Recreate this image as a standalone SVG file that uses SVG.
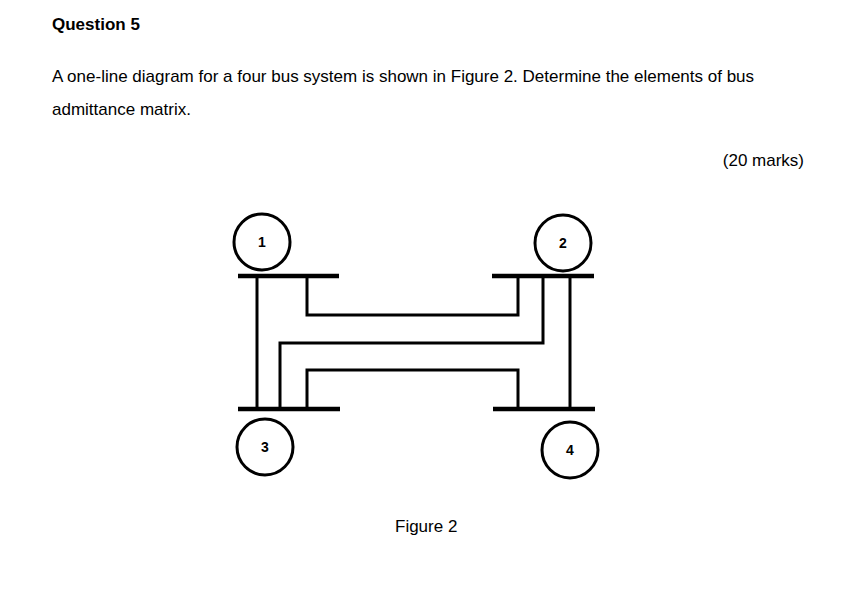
<svg xmlns="http://www.w3.org/2000/svg" width="865" height="591" viewBox="0 0 865 591">
<style>
.t{font-family:"Liberation Sans",Arial,sans-serif;font-size:17px;fill:#000}
.b{font-weight:bold}
.bus{stroke:#000;stroke-width:4.5}
.ln{fill:none;stroke:#000;stroke-width:3}
.c{fill:#fff;stroke:#000;stroke-width:3}
.n{font-family:"Liberation Sans",Arial,sans-serif;font-size:14px;font-weight:bold;text-anchor:middle}
</style>
<rect width="865" height="591" fill="#fff"/>
<text class="t b" x="52" y="30">Question 5</text>
<text class="t" x="52" y="82">A one-line diagram for a four bus system is shown in Figure 2. Determine the elements of bus</text>
<text class="t" x="52" y="115">admittance matrix.</text>
<text class="t" x="804" y="166" text-anchor="end">(20 marks)</text>
<g id="connectors">
<path class="ln" d="M257,276 V409"/>
<path class="ln" d="M307,276 V315 H518 V276"/>
<path class="ln" d="M280,409 V343 H543 V276"/>
<path class="ln" d="M307,409 V370 H518 V409"/>
<path class="ln" d="M570,276 V409"/>
</g>
<g id="bus1"><line class="bus" x1="238" y1="276" x2="339" y2="276"/><circle class="c" cx="262" cy="242" r="28"/><text class="n" x="262" y="247">1</text></g>
<g id="bus2"><line class="bus" x1="492" y1="276" x2="594" y2="276"/><circle class="c" cx="563" cy="243" r="28"/><text class="n" x="563" y="248">2</text></g>
<g id="bus3"><line class="bus" x1="238" y1="409" x2="340" y2="409"/><circle class="c" cx="265" cy="447" r="28"/><text class="n" x="265" y="452">3</text></g>
<g id="bus4"><line class="bus" x1="493" y1="409" x2="595" y2="409"/><circle class="c" cx="570" cy="450" r="28"/><text class="n" x="570" y="455">4</text></g>
<text class="t" x="395" y="532">Figure 2</text>
</svg>
